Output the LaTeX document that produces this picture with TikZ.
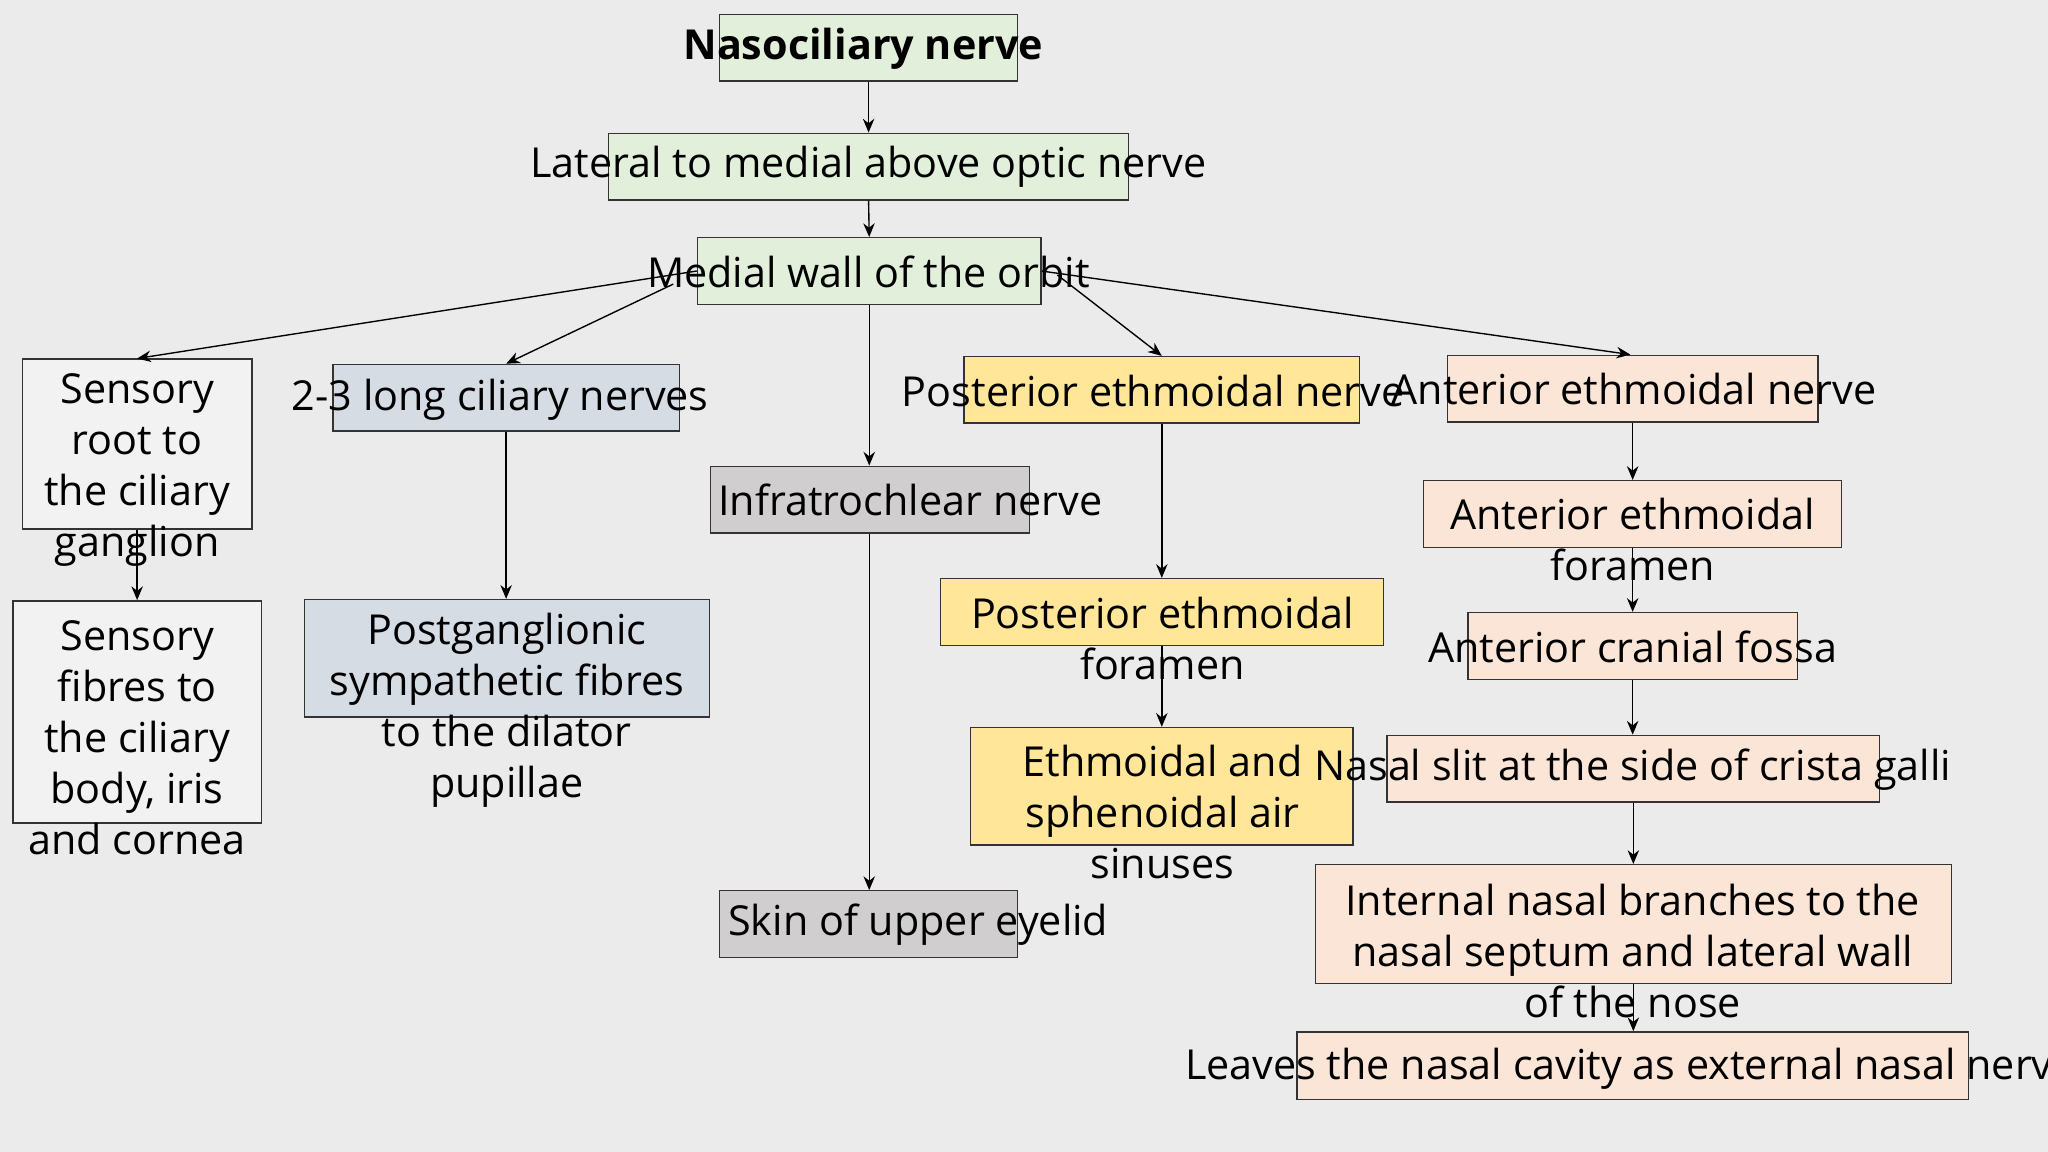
\documentclass[tikz,border=0pt]{standalone}
\usepackage{fontspec}
\setmainfont{Open Sans}
\usetikzlibrary{fit,arrows.meta}
\definecolor{bg}{HTML}{ECEBEC}
\definecolor{cgreen}{HTML}{E2EFDA}
\definecolor{cblue}{HTML}{D6DCE4}
\definecolor{cgray}{HTML}{D0CECE}
\definecolor{cyel}{HTML}{FFE699}
\definecolor{cpeach}{HTML}{FBE5D6}
\definecolor{cwhite}{HTML}{F2F2F2}
\tikzset{
  box/.style={draw=black!80,line width=0.6pt,inner sep=0pt},
  txt/.style={align=center,inner sep=0pt,font=\fontsize{18}{22.2}\selectfont},
  arr/.style={-{Stealth[length=6pt,width=5pt]},line width=0.6pt}
}
\begin{document}
\begin{tikzpicture}[x=0.02cm,y=-0.02cm]
\fill[bg] (0,0) rectangle (1568,882);
\useasboundingbox (0,0) rectangle (1568,882);
% boxes
\node[box,fill=cgreen,fit={(551,11)(779,62)}] (b1) {};
\node[box,fill=cgreen,fit={(466,102)(864,153)}] (b2) {};
\node[box,fill=cgreen,fit={(534,182)(797,233)}] (b3) {};
\node[box,fill=cwhite,fit={(17,275)(193,405)}] (b4) {};
\node[box,fill=cblue,fit={(255,279)(520,330)}] (b5) {};
\node[box,fill=cgray,fit={(544,357)(788,408)}] (b6) {};
\node[box,fill=cyel,fit={(738,273)(1041,324)}] (b7) {};
\node[box,fill=cpeach,fit={(1108,272)(1392,323)}] (b8) {};
\node[box,fill=cwhite,fit={(10,460)(200,630)}] (b9) {};
\node[box,fill=cblue,fit={(233,459)(543,549)}] (b10) {};
\node[box,fill=cyel,fit={(720,443)(1059,494)}] (b11) {};
\node[box,fill=cpeach,fit={(1090,368)(1410,419)}] (b12) {};
\node[box,fill=cpeach,fit={(1124,469)(1376,520)}] (b13) {};
\node[box,fill=cyel,fit={(743,557)(1036,647)}] (b14) {};
\node[box,fill=cpeach,fit={(1062,563)(1439,614)}] (b15) {};
\node[box,fill=cgray,fit={(551,682)(779,733)}] (b16) {};
\node[box,fill=cpeach,fit={(1007,662)(1494,753)}] (b17) {};
\node[box,fill=cpeach,fit={(993,790)(1507,842)}] (b18) {};
% connectors
\draw[arr] (b1.south) -- (b2.north);
\draw[arr] (b2.south) -- (b3.north);
\draw[arr] (b3.west) -- (b4.north);
\draw[arr] ([shift={(-18,10)}]b3.west) -- (b5.north);
\draw[arr] (b3.south) -- (b3.south |- b6.north);
\draw[arr] ([shift={(12,3)}]b3.east) -- (b7.north);
\draw[arr] (b3.east) -- ([xshift=-1]b8.north);
\draw[arr] (b4.south) -- (b9.north);
\draw[arr] (b5.south) -- (b5.south |- b10.north);
\draw[arr] (b6.south -| b3.south) -- (b3.south |- b16.north);
\draw[arr] (b7.south) -- (b7.south |- b11.north);
\draw[arr] (b11.south) -- (b11.south |- b14.north);
\draw[arr] (b8.south) -- (b8.south |- b12.north);
\draw[arr] (b12.south) -- (b12.south |- b13.north);
\draw[arr] (b13.south) -- (b13.south |- b15.north);
\draw[arr] (b15.south) -- (b15.south |- b17.north);
\draw[arr] (b17.south) -- (b17.south |- b18.north);
% texts
\node[txt,font=\fontsize{18}{22.2}\selectfont\bfseries] (t1) at (661,37) {Nasociliary nerve};
\node[txt] (t2) at (665,128) {Lateral to medial above optic nerve};
\node[txt] (t3) at (665,208) {Medial wall of the orbit};
\node[txt] (t4) at (105,360) {Sensory\\root to\\the ciliary\\ganglion};
\node[txt] (t5) at (383,306) {2-3 long ciliary nerves};
\node[txt] (t6) at (697,383) {Infratrochlear nerve};
\node[txt] (t7) at (883,299) {Posterior ethmoidal nerve};
\node[txt] (t8) at (1251,298) {Anterior ethmoidal nerve};
\node[txt] (t9) at (105,565) {Sensory\\fibres to\\the ciliary\\body, iris\\and cornea};
\node[txt] (t10) at (388,544) {Postganglionic\\sympathetic fibres\\to the dilator\\pupillae};
\node[txt] (t11) at (890,489) {Posterior ethmoidal\\foramen};
\node[txt] (t12) at (1250,413) {Anterior ethmoidal\\foramen};
\node[txt] (t13) at (1250,495) {Anterior cranial fossa};
\node[txt] (t14) at (890,622) {Ethmoidal and\\sphenoidal air\\sinuses};
\node[txt] (t15) at (1250,589) {Nasal slit at the side of crista galli};
\node[txt] (t16) at (703,708) {Skin of upper eyelid};
\node[txt] (t17) at (1250,728) {Internal nasal branches to the\\nasal septum and lateral wall\\of the nose};
\node[txt,anchor=west] (t18) at (907,818) {Leaves the nasal cavity as external nasal nerve};
\end{tikzpicture}
\end{document}
